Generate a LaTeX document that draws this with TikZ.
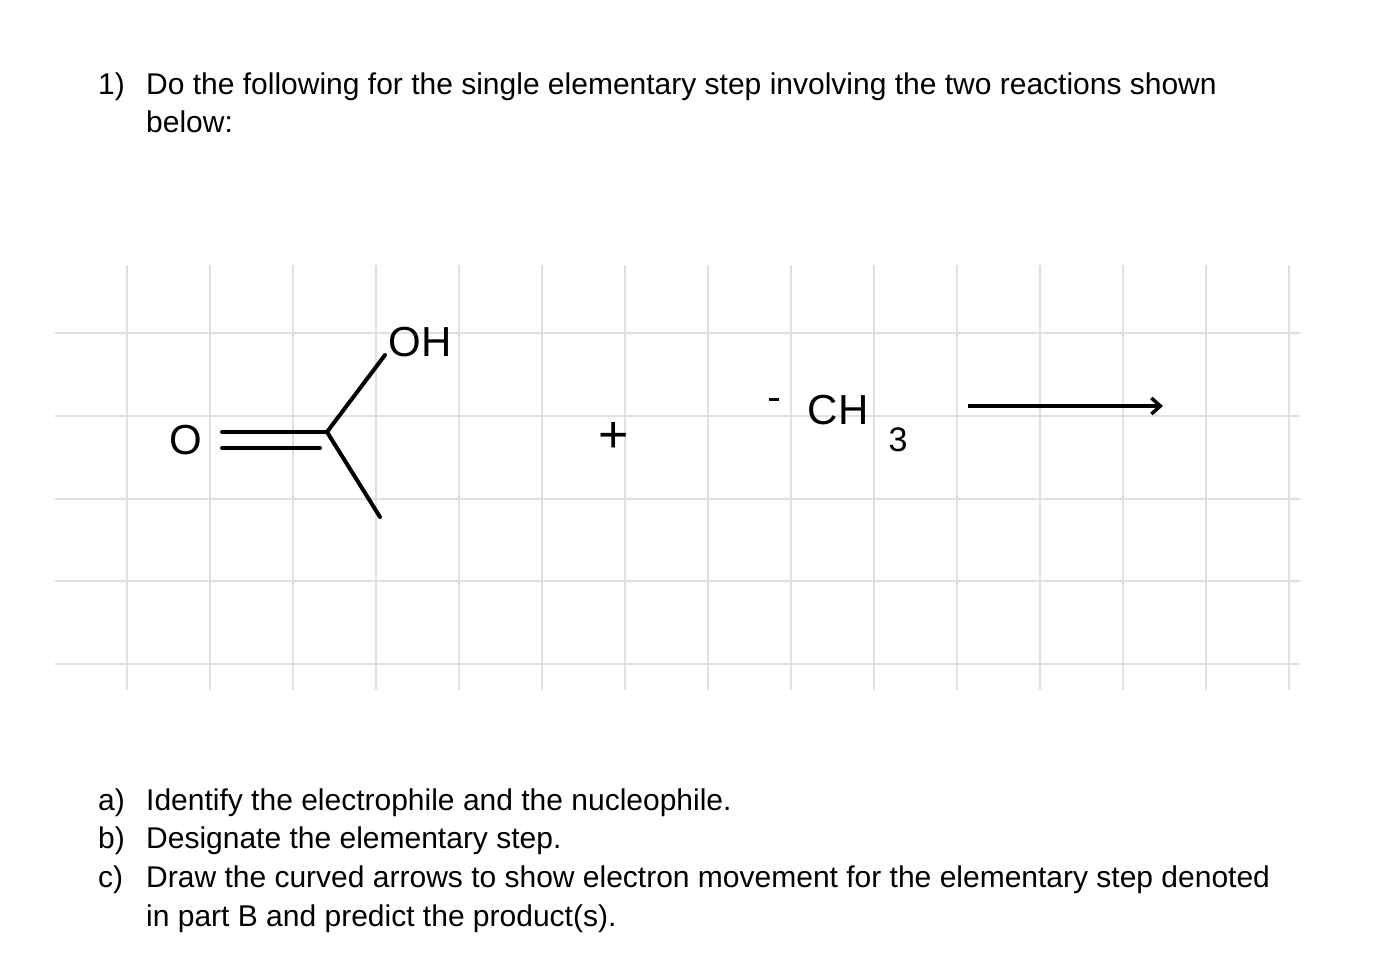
\documentclass[tikz,border=0pt]{standalone}
\usepackage{fontspec}
\setmainfont{Liberation Sans}
\usetikzlibrary{arrows.meta}
\begin{document}
\begin{tikzpicture}[x=1pt,y=-1pt,
  txt/.style={anchor=base west,font=\fontsize{30}{36}\selectfont,inner sep=0},
  hand/.style={font=\fontsize{42}{48}\selectfont,inner sep=0},
  bond/.style={line width=4pt,line cap=round}]
\useasboundingbox (0,0) rectangle (1398,970);
\foreach \x in {127,210,293,376,459,542,625,708,791,874,957,1040,1123,1206,1289}
  \draw[black!12,line width=1.5pt] (\x,265) -- (\x,690);
\foreach \y in {333,416,499,581,664}
  \draw[black!12,line width=1.5pt] (55,\y) -- (1300,\y);
\node[txt] (t1) at (98,94) {1)};
\node[txt] (t1b) at (146,94) {Do the following for the single elementary step involving the two reactions shown};
\node[txt] (t1c) at (146,132) {below:};
\node[txt] (ta) at (98,810) {a)};
\node[txt] (tab) at (146,810) {Identify the electrophile and the nucleophile.};
\node[txt] (tb) at (98,848) {b)};
\node[txt] (tbb) at (146,848) {Designate the elementary step.};
\node[txt] (tc) at (98,887) {c)};
\node[txt] (tcb) at (146,887) {Draw the curved arrows to show electron movement for the elementary step denoted};
\node[txt] (tcc) at (146,926) {in part B and predict the product(s).};
% molecule
\node[hand] (O) at (186,440) {O};
\coordinate (C) at (327,432);
\coordinate (top) at (385,355);
\coordinate (bot) at (380,517);
\draw[bond] (222,432) -- (C);
\draw[bond] (222,448) -- (320,448);
\draw[bond] (C) -- (top);
\draw[bond] (C) -- (bot);
\node[hand] (OH) at (420,342) {OH};
\node[hand,font=\fontsize{52}{56}\selectfont] (plus) at (614,437) {+};
\node[hand] (CH) at (838,410) {CH};
\node[hand,font=\fontsize{34}{40}\selectfont] (three) at (898,440) {3};
\draw[line width=3pt] (769,399) -- (779,399);
\coordinate (a1) at (968,406);
\coordinate (a2) at (1163,406);
\draw[line width=3.5pt,-{Straight Barb[length=9pt,width=16pt]}] (a1) -- (a2);
\end{tikzpicture}
\end{document}
